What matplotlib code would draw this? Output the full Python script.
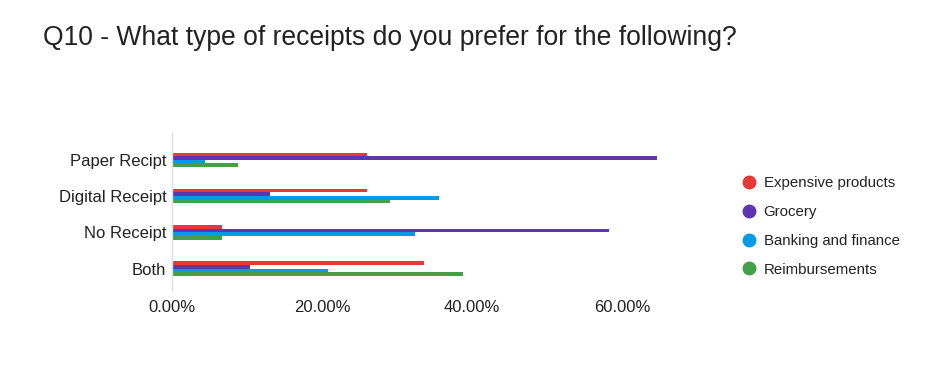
import numpy as np
import matplotlib.pyplot as plt
from matplotlib.lines import Line2D
from matplotlib.ticker import FuncFormatter

plt.rcParams['font.family'] = ['Liberation Sans', 'DejaVu Sans']

categories = ["Paper Recipt", "Digital Receipt", "No Receipt", "Both"]
series_names = ["Expensive products", "Grocery", "Banking and finance", "Reimbursements"]
expensive = [0.260, 0.260, 0.066, 0.336]
grocery = [0.646, 0.130, 0.582, 0.104]
banking = [0.044, 0.356, 0.324, 0.208]
reimburse = [0.088, 0.291, 0.066, 0.388]
colors = ["#E53935", "#5E35B1", "#039BE5", "#43A047"]
xticks = [0.0, 0.2, 0.4, 0.6]


def main():
    fig = plt.figure(figsize=(9.36, 3.79), dpi=100)
    ax = fig.add_axes([172 / 936, 89 / 379, 495 / 936, 157 / 379])

    y = np.arange(len(categories))
    barH = 0.1
    allSeries = [expensive, grocery, banking, reimburse]
    for i, vals in enumerate(allSeries):
        offset = (i - 1.5) * barH
        ax.barh(y + offset, vals, height=barH, color=colors[i], linewidth=0)

    ax.set_ylim(3.59, -0.74)
    ax.set_xlim(0, 0.66)
    ax.set_yticks(y)
    ax.set_yticklabels(categories, fontsize=12, color="#222222")
    ax.set_xticks(xticks)
    ax.xaxis.set_major_formatter(FuncFormatter(lambda v, p: "%.2f%%" % (v * 100)))
    ax.tick_params(axis='x', length=0, pad=7, labelsize=12, labelcolor="#222222")
    ax.tick_params(axis='y', length=0, pad=4)

    for s in ["top", "right", "bottom"]:
        ax.spines[s].set_visible(False)
    ax.spines["left"].set_color("#dddddd")
    ax.spines["left"].set_linewidth(1)

    handles = [Line2D([], [], marker='o', linestyle='None', markersize=9,
                      markerfacecolor=c, markeredgecolor=c) for c in colors]
    fig.legend(handles, series_names, loc='center left',
               bbox_to_anchor=(726 / 936, 1 - 226.5 / 379), frameon=False,
               fontsize=10.8, labelspacing=0.98, handletextpad=0.4,
               handlelength=1.2, labelcolor="#222222")

    fig.text(43 / 936, 1 - 38 / 379,
             "Q10 - What type of receipts do you prefer for the following?",
             fontsize=19.1, color="#222222", va='center', ha='left')

    fig.savefig("out.png", dpi=100)


main()
